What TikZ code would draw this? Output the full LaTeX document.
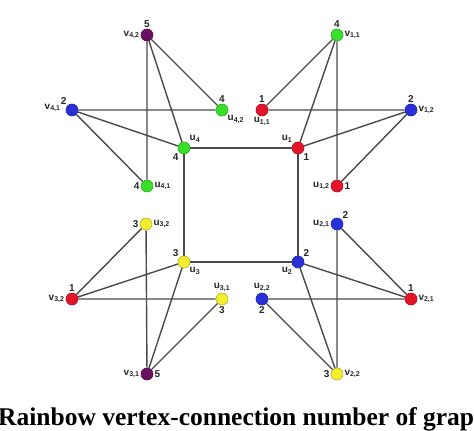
\documentclass[tikz,border=0pt]{standalone}
\usepackage{fontspec}
\setmainfont{Liberation Serif}
\setsansfont{Liberation Sans}
\usetikzlibrary{positioning}
\definecolor{edge}{HTML}{4A4A4A}
\definecolor{purp}{HTML}{6A0F62}
\definecolor{blu}{HTML}{2A30D8}
\definecolor{grn}{HTML}{38E02A}
\definecolor{rd}{HTML}{E4142A}
\definecolor{yel}{HTML}{F2EE2E}
\newcommand{\sub}[2]{#1\textsubscript{#2}}
\tikzset{lab/.style={font=\sffamily\bfseries\fontsize{10}{11}\selectfont,text=black!85,inner sep=1pt},
vx/.style={circle,minimum size=12pt,inner sep=0pt,line width=.6pt,draw=#1!75!black,fill=#1},
ln/.style={draw=edge,line width=1.4pt}}
\begin{document}
\begin{tikzpicture}[x=1pt,y=-1pt]
\useasboundingbox (0,0) rectangle (474,431);
% top left
\node[vx=purp,label={[lab]above:5},label={[lab]left:\sub{v}{4,2}}] (v42) at (147,35) {};
\node[vx=blu,label={[lab]above left:2},label={[lab,xshift=-4pt,yshift=2pt]left:\sub{v}{4,1}}] (v41) at (72,110) {};
\node[vx=grn,label={[lab]above:4},label={[lab]below right:\sub{u}{4,2}}] (u42) at (222,110) {};
\node[vx=grn,label={[lab]above right:\sub{u}{4}},label={[lab]below left:4}] (u4) at (184,148) {};
\node[vx=grn,label={[lab]left:4},label={[lab]right:\sub{u}{4,1}}] (u41) at (147,186) {};
% top right
\node[vx=grn,label={[lab]above:4},label={[lab]right:\sub{v}{1,1}}] (v11) at (337,35) {};
\node[vx=rd,label={[lab]above:1},label={[lab]below:\sub{u}{1,1}}] (u11) at (262,110) {};
\node[vx=blu,label={[lab]above:2},label={[lab]right:\sub{v}{1,2}}] (v12) at (411,110) {};
\node[vx=rd,label={[lab]above left:\sub{u}{1}},label={[lab]below right:1}] (u1) at (298,148) {};
\node[vx=rd,label={[lab]left:\sub{u}{1,2}},label={[lab]right:1}] (u12) at (337,186) {};
% bottom left
\node[vx=yel,label={[lab]left:3},label={[lab]right:\sub{u}{3,2}}] (u32) at (146,224) {};
\node[vx=yel,label={[lab]above left:3},label={[lab]below right:\sub{u}{3}}] (u3) at (184,262) {};
\node[vx=rd,label={[lab]above:1},label={[lab]left:\sub{v}{3,2}}] (v32) at (72,299) {};
\node[vx=yel,label={[lab]above:\sub{u}{3,1}},label={[lab]below:3}] (u31) at (222,299) {};
\node[vx=purp,label={[lab]left:\sub{v}{3,1}},label={[lab]right:5}] (v31) at (147,374) {};
% bottom right
\node[vx=blu,label={[lab]left:\sub{u}{2,1}},label={[lab]above right:2}] (u21) at (337,224) {};
\node[vx=blu,label={[lab]above right:2},label={[lab]below left:\sub{u}{2}}] (u2) at (298,262) {};
\node[vx=blu,label={[lab]above:\sub{u}{2,2}},label={[lab]below:2}] (u22) at (262,299) {};
\node[vx=rd,label={[lab]above:1},label={[lab]right:\sub{v}{2,1}}] (v21) at (411,299) {};
\node[vx=yel,label={[lab]left:3},label={[lab]right:\sub{v}{2,2}}] (v22) at (337,374) {};
% edges
\draw[ln] (u4)--(u1)--(u2)--(u3)--(u4);
\draw[ln] (v42)--(u42) (v42)--(u4) (v42)--(u41);
\draw[ln] (v41)--(u42) (v41)--(u4) (v41)--(u41);
\draw[ln] (v11)--(u11) (v11)--(u1) (v11)--(u12);
\draw[ln] (v12)--(u11) (v12)--(u1) (v12)--(u12);
\draw[ln] (v32)--(u32) (v32)--(u3) (v32)--(u31);
\draw[ln] (v31)--(u32) (v31)--(u3) (v31)--(u31);
\draw[ln] (v21)--(u21) (v21)--(u2) (v21)--(u22);
\draw[ln] (v22)--(u21) (v22)--(u2) (v22)--(u22);
% caption
\node[anchor=base west,inner sep=0pt,font=\bfseries\fontsize{25.5}{27}\selectfont] (cap) at (-2,425)
{Rainbow vertex-connection number of graph};
\end{tikzpicture}
\end{document}
